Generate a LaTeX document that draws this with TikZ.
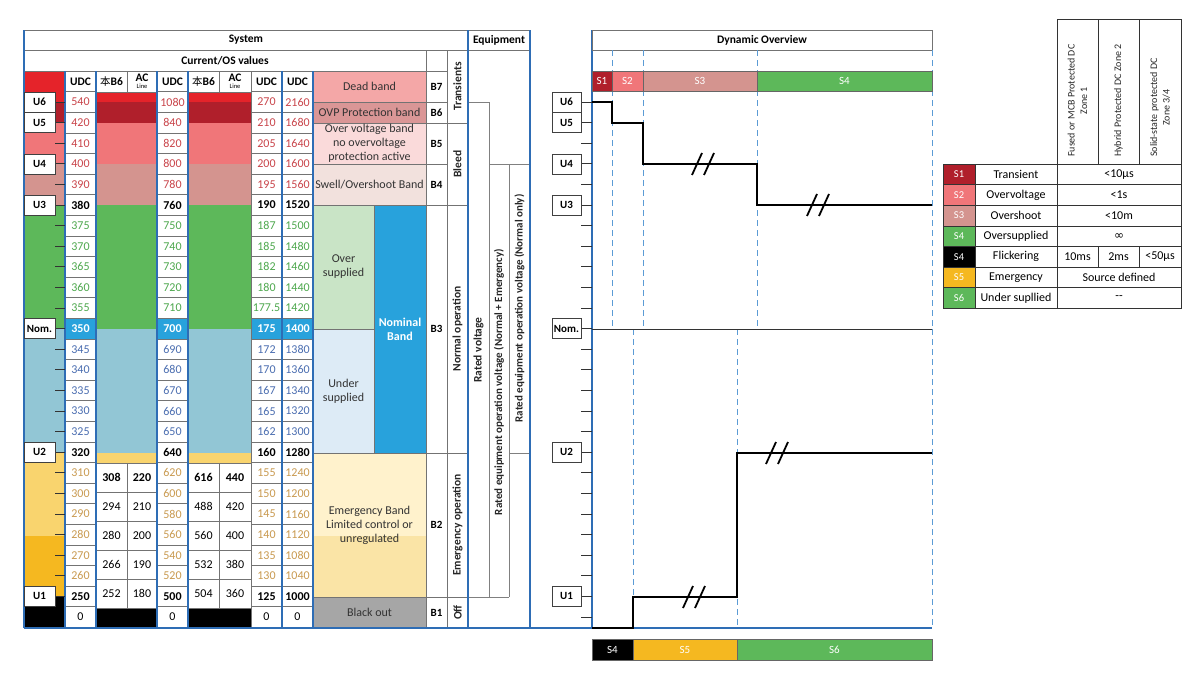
\documentclass[tikz,border=0pt]{standalone}
\usepackage{fontspec}
\setmainfont{Carlito}
\newfontfamily\cjkfont{Noto Sans CJK SC}
\newfontfamily\symfont{DejaVu Sans}
\definecolor{FrameBlue}{HTML}{2E6DB5}
\definecolor{DashBlue}{HTML}{5B9BD5}
\definecolor{BrightRed}{HTML}{E5232A}
\definecolor{DarkRed}{HTML}{B01F2B}
\definecolor{Salmon}{HTML}{F07679}
\definecolor{DustyRose}{HTML}{D4948F}
\definecolor{OkGreen}{HTML}{5DB85A}
\definecolor{SkyBlue}{HTML}{92C6D5}
\definecolor{LightAmber}{HTML}{F9D46E}
\definecolor{Amber}{HTML}{F5B820}
\definecolor{NomBlue}{HTML}{28A2DC}
\definecolor{DeadFill}{HTML}{F4A7A7}
\definecolor{OvpFill}{HTML}{DA9696}
\definecolor{OvFill}{HTML}{FADADA}
\definecolor{SwellFill}{HTML}{F2E1DD}
\definecolor{OverFill}{HTML}{C9E4C6}
\definecolor{UnderFill}{HTML}{DDEBF6}
\definecolor{EmFillA}{HTML}{FFF2CC}
\definecolor{EmFillB}{HTML}{FAE4A6}
\definecolor{BlackoutFill}{HTML}{A6A6A6}
\definecolor{ValRed}{HTML}{C9444A}
\definecolor{ValGreen}{HTML}{4EA84E}
\definecolor{ValBlue}{HTML}{4A6DB0}
\definecolor{ValTan}{HTML}{C99A50}

\begin{document}
\begin{tikzpicture}[
  x=1pt, y=-1pt,
  gridline/.style={draw=black!55, line width=0.6pt},
  bluerule/.style={draw=FrameBlue, line width=1.6pt},
  cell/.style={gridline, fill=white, inner sep=0pt, minimum width=31pt, minimum height=20.6pt, font=\fontsize{12}{13}\selectfont},
  vred/.style={text=ValRed}, vgreen/.style={text=ValGreen}, vblue/.style={text=ValBlue}, vtan/.style={text=ValTan},
  vbold/.style={font=\fontsize{12}{13}\selectfont\bfseries},
  vnom/.style={fill=NomBlue, text=white, font=\fontsize{12}{13}\selectfont\bfseries},
  vplain/.style={},
  hdr/.style={gridline, fill=white, inner sep=0pt, minimum height=20pt, font=\fontsize{11.5}{12}\selectfont\bfseries},
  colhdr/.style={gridline, fill=white, inner sep=0pt, minimum width=31pt, minimum height=21pt, align=center, font=\fontsize{11.5}{11}\selectfont\bfseries},
  ulabel/.style={draw=black!75, fill=white, line width=0.6pt, inner sep=0pt, minimum width=31pt, minimum height=20pt, font=\fontsize{11}{11}\selectfont\bfseries},
  bandtext/.style={align=center, text=black!80, font=\fontsize{12}{14}\selectfont},
  blabel/.style={font=\fontsize{11}{11}\selectfont\bfseries},
  rottext/.style={rotate=90, text=black!85, font=\fontsize{11.5}{11}\selectfont\bfseries},
  eqline/.style={draw=black!50, line width=0.9pt},
  ustick/.style={draw=black!80, line width=0.8pt},
  dashline/.style={draw=DashBlue, line width=1pt, dash pattern=on 6pt off 4pt},
  sigline/.style={draw=black, line width=2pt},
  brk/.style={draw=black, line width=1.8pt},
  statebar/.style={draw=black!60, line width=0.5pt, text=white, inner sep=0pt, font=\fontsize{11}{11}\selectfont},
  legcell/.style={draw=black!80, line width=0.6pt, inner sep=0pt, minimum height=20.6pt, font=\fontsize{12}{12}\selectfont},
  rothead/.style={rotate=90, anchor=west, align=center, inner sep=1pt, text=black!85, font=\fontsize{10}{12.5}\selectfont},
]
\useasboundingbox (0,0) rectangle (1200,699);

% colour bands behind the table
\foreach \ya/\yb/\col in {71/102/BrightRed, 102/123/DarkRed, 123/164/Salmon, 164/205/DustyRose, 205/329/OkGreen, 329/453/SkyBlue, 453/536/LightAmber, 536/597/Amber, 597/628/black}
  \fill[fill=\col] (24,\ya) rectangle (65,\yb);
\foreach \xa/\xb in {96/157, 188/251} {
  \foreach \ya/\yb/\col in {71/102/BrightRed, 102/123/DarkRed, 123/164/Salmon, 164/205/DustyRose, 205/329/OkGreen, 329/453/SkyBlue, 453/463/LightAmber, 608/628/black}
    \fill[fill=\col] (\xa,\ya) rectangle (\xb,\yb);
}

% headers
\node[hdr, minimum width=444pt] (system) at (246,40) {System};
\node[hdr, minimum width=62pt] (equip) at (499,40) {Equipment};
\node[hdr, minimum width=402pt, minimum height=21pt] (osvalues) at (225,60.5) {Current/OS values};
\draw[gridline] (426,50) rectangle (447,71);

\foreach \x/\n in {80.5/ua, 172.5/ub, 266.5/uc, 297.5/ud}
  \node[colhdr] (h\n) at (\x,81.5) {UDC};
\foreach \x/\n in {111.5/a, 203.5/b}
  \node[colhdr] (hbr\n) at (\x,81.5) {{\cjkfont\mdseries\fontsize{10.5}{11}\selectfont 本}B6};
\node[colhdr, minimum width=30pt] (haca) at (142,81.5) {AC\\[-4pt]{\fontsize{6.5}{7}\selectfont\mdseries Line}};
\node[colhdr, minimum width=32pt] (hacb) at (235,81.5) {AC\\[-4pt]{\fontsize{6.5}{7}\selectfont\mdseries Line}};

% DC values
\foreach \va/\vb/\vc/\vd/\st [count=\i from 0] in {
  540/1080/270/2160/vred, 420/840/210/1680/vred, 410/820/205/1640/vred, 400/800/200/1600/vred, 390/780/195/1560/vred,
  380/760/190/1520/vbold,
  375/750/187/1500/vgreen, 370/740/185/1480/vgreen, 365/730/182/1460/vgreen, 360/720/180/1440/vgreen, 355/710/177.5/1420/vgreen,
  350/700/175/1400/vnom,
  345/690/172/1380/vblue, 340/680/170/1360/vblue, 335/670/167/1340/vblue, 330/660/165/1320/vblue, 325/650/162/1300/vblue,
  320/640/160/1280/vbold,
  310/620/155/1240/vtan, 300/600/150/1200/vtan, 290/580/145/1160/vtan, 280/560/140/1120/vtan, 270/540/135/1080/vtan, 260/520/130/1040/vtan,
  250/500/125/1000/vbold,
  0/0/0/0/vplain} {
  \pgfmathsetmacro{\y}{102+20.6*\i}
  \node[cell, \st] (ua\i) at (80.5,\y) {\va};
  \node[cell, \st] (ub\i) at (172.5,\y) {\vb};
  \node[cell, \st] (uc\i) at (266.5,\y) {\vc};
  \node[cell, \st] (ud\i) at (297.5,\y) {\vd};
}

% bridge and AC line values
\foreach \ba/\aa/\bb/\ab [count=\k from 0] in {\textbf{308}/\textbf{220}/\textbf{616}/\textbf{440}, 294/210/488/420, 280/200/560/400, 266/190/532/380, 252/180/504/360} {
  \pgfmathsetmacro{\y}{477.5+29*\k}
  \node[cell, minimum height=29pt] (bra\k) at (111.5,\y) {\ba};
  \node[cell, minimum height=29pt, minimum width=30pt] (aca\k) at (142,\y) {\aa};
  \node[cell, minimum height=29pt] (brb\k) at (203.5,\y) {\bb};
  \node[cell, minimum height=29pt, minimum width=32pt] (acb\k) at (235,\y) {\ab};
}

% band descriptions
\filldraw[gridline, fill=DeadFill] (313,71) rectangle (426,102);
\filldraw[gridline, fill=OvpFill] (313,102) rectangle (426,123);
\filldraw[gridline, fill=OvFill] (313,123) rectangle (426,164);
\filldraw[gridline, fill=SwellFill] (313,164) rectangle (426,205);
\filldraw[gridline, fill=OverFill] (313,205) rectangle (374,329);
\filldraw[gridline, fill=UnderFill] (313,329) rectangle (374,453);
\filldraw[gridline, fill=NomBlue] (374,205) rectangle (426,453);
\fill[EmFillA] (313,453) rectangle (426,536);
\fill[EmFillB] (313,536) rectangle (426,597);
\draw[gridline] (313,453) rectangle (426,597);
\filldraw[gridline, fill=BlackoutFill] (313,597) rectangle (426,628);

\node[bandtext] (deadband) at (369.5,86.5) {Dead band};
\node[bandtext] (ovpband) at (369.5,112.5) {OVP Protection band};
\node[bandtext] (ovband) at (369.5,143.5) {Over voltage band\\no overvoltage\\protection active};
\node[bandtext] (swell) at (369.5,184.5) {Swell/Overshoot Band};
\node[bandtext] (oversup) at (343.5,267) {Over\\supplied};
\node[bandtext] (undersup) at (343.5,391) {Under\\supplied};
\node[bandtext, text=white, font=\fontsize{12}{14}\selectfont\bfseries] (nomband) at (400,329) {Nominal\\Band};
\node[bandtext] (emband) at (369.5,525) {Emergency Band\\Limited control or\\unregulated};
\node[bandtext] (blackout) at (369.5,612.5) {Black out};

\foreach \t/\ya/\yb in {B7/71/102, B6/102/123, B5/123/164, B4/164/205, B3/205/453, B2/453/597, B1/597/628} {
  \draw[gridline] (426,\ya) rectangle (447,\yb);
  \node[blabel] (band\t) at (436.5,{(\ya+\yb)/2}) {\t};
}
\foreach \t/\ya/\yb [count=\k] in {Transients/50/123, Bleed/123/205, Normal operation/205/453, Emergency operation/453/597, Off/597/628} {
  \draw[gridline] (447,\ya) rectangle (468,\yb);
  \node[rottext] (mode\k) at (457.5,{(\ya+\yb)/2}) {\t};
}

% equipment brackets
\draw[eqline] (468,102) -| (489,597);
\draw[eqline] (489,164) -- (530,164);
\draw[eqline] (509,164) -- (509,597);
\draw[eqline] (468,597) -- (509,597);
\draw[eqline] (509,453) -- (530,453);
\node[rottext] (ratedv) at (478.5,350) {Rated voltage};
\node[rottext, font=\fontsize{11}{11}\selectfont\bfseries] (ratedne) at (499,382) {Rated equipment operation voltage (Normal + Emergency)};
\node[rottext, font=\fontsize{11}{11}\selectfont\bfseries] (ratedn) at (519.5,308.5) {Rated equipment operation voltage (Normal only)};

% blue frame
\foreach \x/\ya in {24/30, 65/71, 96/71, 157/71, 188/71, 282/71, 313/71, 468/30, 530/30, 592/30}
  \draw[bluerule] (\x,\ya) -- (\x,628);
\draw[bluerule] (24,628) -- (932,628);

% level ticks and labels
\foreach \i in {0,...,24}
  \draw[ustick] (55,{102+20.6*\i}) -- (65,{102+20.6*\i});
\foreach \i in {0,...,25}
  \draw[ustick] (581,{102+20.6*\i}) -- (592,{102+20.6*\i});
\foreach \n/\i in {U6/0, U5/1, U4/3, U3/5, Nom./11, U2/17, U1/24} {
  \node[ulabel] (l\i) at (39.5,{102+20.6*\i}) {\n};
  \node[ulabel, minimum width=29pt] (r\i) at (566.5,{102+20.6*\i}) {\n};
}

% dynamic overview
\node[hdr, minimum width=340pt] (dynov) at (762,40) {Dynamic Overview};
\foreach \x in {612, 643, 757, 932}
  \draw[dashline] (\x,50) -- (\x,329);
\foreach \x in {633, 737, 932}
  \draw[dashline] (\x,329) -- (\x,628);
\draw[black!80, line width=0.8pt] (592,329) -- (932,329);

\node[statebar, fill=DarkRed, minimum width=20pt, minimum height=20pt] (st1) at (602,81) {S1};
\node[statebar, fill=Salmon, minimum width=31pt, minimum height=20pt] (st2) at (627.5,81) {S2};
\node[statebar, fill=DustyRose, minimum width=114pt, minimum height=20pt] (st3) at (700,81) {S3};
\node[statebar, fill=OkGreen, minimum width=175pt, minimum height=20pt] (st4) at (844.5,81) {S4};
\node[statebar, fill=black, minimum width=41pt, minimum height=21pt] (sb4) at (612.5,649.5) {S4};
\node[statebar, fill=Amber, minimum width=104pt, minimum height=21pt] (sb5) at (685,649.5) {S5};
\node[statebar, fill=OkGreen, minimum width=195pt, minimum height=21pt] (sb6) at (834.5,649.5) {S6};

\draw[sigline] (592,102) -| (612,123) -| (643,164) -| (757,205) -- (932,205);
\draw[sigline] (592,628) -| (633,597) -| (737,453) -- (932,453);
\foreach \bx/\by in {703/164, 818/205, 694/597, 777/453} {
  \draw[brk] (\bx-11,\by+11) -- (\bx-1,\by-11);
  \draw[brk] (\bx+1,\by+11) -- (\bx+11,\by-11);
}

% legend
\draw[draw=black!80, line width=0.6pt] (1057,19) rectangle (1098,164);
\draw[draw=black!80, line width=0.6pt] (1098,19) rectangle (1139,164);
\draw[draw=black!80, line width=0.6pt] (1139,19) rectangle (1181,164);
\node[rothead] (zone1) at (1077.5,158) {Fused or MCB Protected DC\\Zone 1};
\node[rothead] (zone2) at (1118.5,158) {Hybrid Protected DC Zone 2};
\node[rothead] (zone3) at (1160,158) {Solid-state protected DC\\Zone 3/4};

\foreach \s/\col/\n/\v [count=\k from 0] in {S1/DarkRed/Transient/{<10µs}, S2/Salmon/Overvoltage/{<1s}, S3/DustyRose/Overshoot/{<10m}, S4/OkGreen/Oversupplied/{{\symfont ∞}}, S4/black/Flickering/{}, S5/Amber/Emergency/{Source defined}, S6/OkGreen/Under supllied/{-{}-}} {
  \pgfmathsetmacro{\y}{174.3+20.6*\k}
  \node[legcell, fill=\col, text=white, minimum width=32pt, font=\fontsize{10.5}{11}\selectfont] (lc\k) at (959,\y) {\s};
  \node[legcell, minimum width=82pt] (ln\k) at (1016,\y) {\n};
  \node[legcell, minimum width=124pt] (lv\k) at (1119,\y) {\v};
}
\node[legcell, minimum width=41pt] (fl1) at (1077.5,256.7) {10ms};
\node[legcell, minimum width=41pt] (fl2) at (1118.5,256.7) {2ms};
\node[legcell, minimum width=42pt] (fl3) at (1160,256.7) {<50µs};

\end{tikzpicture}
\end{document}
